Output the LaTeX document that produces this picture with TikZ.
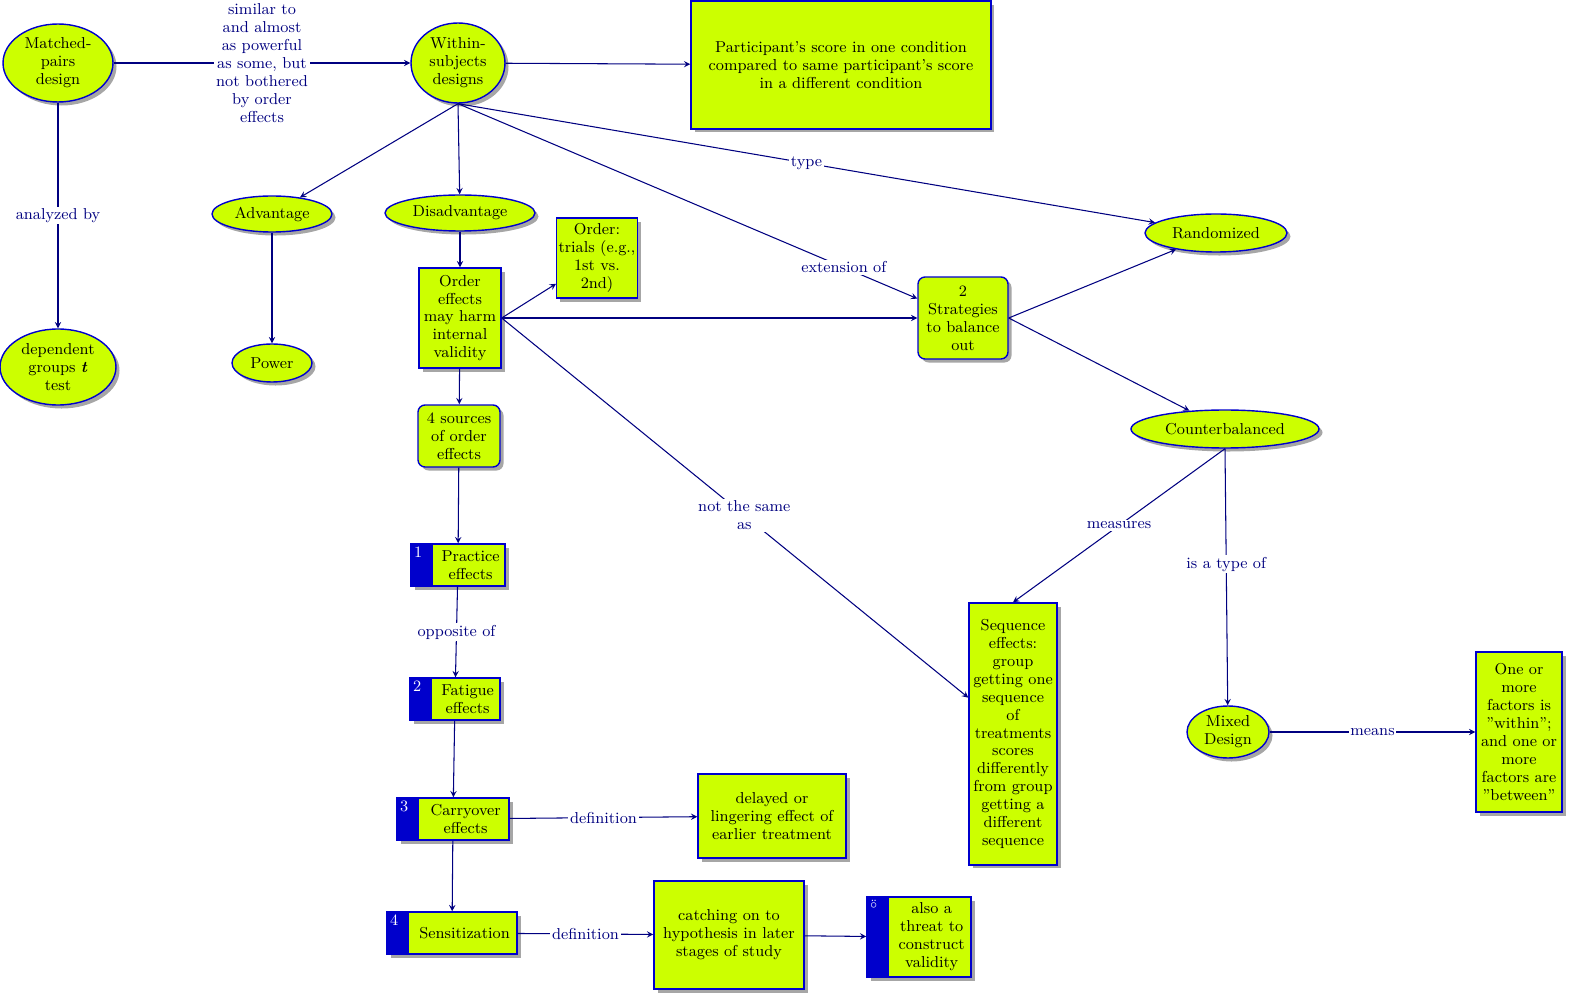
\documentclass[tikz,border=0pt]{standalone}
\usepackage{tikz}
\usetikzlibrary{shapes.geometric,shadows}
\definecolor{lime}{RGB}{204,255,0}
\definecolor{edgeblue}{RGB}{0,0,204}
\definecolor{navy}{RGB}{0,0,128}
\begin{document}
\begin{tikzpicture}[x=0.02cm,y=-0.02cm,
  font=\fontsize{9}{10.2}\selectfont,
  base/.style={draw=edgeblue,fill=lime,thick,align=center,inner sep=1pt,
    drop shadow={shadow xshift=2pt,shadow yshift=-2pt,fill=gray!70,opacity=1}},
  enode/.style={base,ellipse},
  bnode/.style={base,rectangle},
  rnode/.style={base,rectangle,rounded corners=4pt},
  nnode/.style={bnode,path picture={\fill[edgeblue] (path picture bounding box.north west) rectangle ([xshift=0.44cm]path picture bounding box.south west);}},
  arr/.style={->,>=stealth,navy,semithick},
  lbl/.style={fill=white,inner sep=1pt,align=center}]
  \useasboundingbox (0,0) rectangle (1572,996);

  \node[enode,minimum width=2.2cm,minimum height=1.56cm] (matched) at (58,63) {Matched-\\pairs\\design};
  \node[enode,minimum width=1.88cm,minimum height=1.6cm] (within) at (458,63) {Within-\\subjects\\designs};
  \node[bnode,minimum width=6cm,minimum height=2.56cm] (score) at (841,65) {Participant's score in one condition\\compared to same participant's score\\in a different condition};
  \node[enode,minimum width=2.4cm,minimum height=0.72cm] (adv) at (272,214) {Advantage};
  \node[enode,minimum width=3cm,minimum height=0.72cm] (disadv) at (460,213) {Disadvantage};
  \node[enode,minimum width=1.6cm,minimum height=0.76cm] (power) at (272,363) {Power};
  \node[enode,minimum width=2.32cm,minimum height=1.52cm] (depgrp) at (58,367) {dependent\\groups \textbf{\textit{t}}\\test};
  \node[bnode,minimum width=1.6cm,minimum height=1.6cm] (trials) at (597,258) {Order:\\trials (e.g.,\\1st vs.\\2nd)};
  \node[bnode,minimum width=1.64cm,minimum height=2cm] (order) at (460,318) {Order\\effects\\may harm\\internal\\validity};
  \node[rnode,minimum width=1.64cm,minimum height=1.24cm] (sources) at (459,436) {4 sources\\of order\\effects};
  \node[nnode,minimum width=1.88cm,minimum height=0.84cm,label={[white,anchor=north west,inner sep=2pt]north west:1}] (practice) at (458,565) {\hspace*{1.6em}Practice\\\hspace*{1.6em}effects};
  \node[nnode,minimum width=1.8cm,minimum height=0.84cm,label={[white,anchor=north west,inner sep=2pt]north west:2}] (fatigue) at (455,699) {\hspace*{1.6em}Fatigue\\\hspace*{1.6em}effects};
  \node[nnode,minimum width=2.24cm,minimum height=0.84cm,label={[white,anchor=north west,inner sep=2pt]north west:3}] (carry) at (453,819) {\hspace*{1.6em}Carryover\\\hspace*{1.6em}effects};
  \node[bnode,minimum width=2.96cm,minimum height=1.68cm] (delayed) at (772,816) {delayed or\\lingering effect of\\earlier treatment};
  \node[nnode,minimum width=2.6cm,minimum height=0.84cm,label={[white,anchor=north west,inner sep=2pt]north west:4}] (sensit) at (452,933) {\hspace*{1.6em}Sensitization};
  \node[bnode,minimum width=3cm,minimum height=2.16cm] (catching) at (729,935) {catching on to\\hypothesis in later\\stages of study};
  \node[nnode,minimum width=2.08cm,minimum height=1.6cm,label={[white,anchor=north west,inner sep=2pt]north west:\scriptsize$\ddot\circ$}] (threat) at (919,937) {\hspace*{1.6em}also a\\\hspace*{1.6em}threat to\\\hspace*{1.6em}construct\\\hspace*{1.6em}validity};
  \node[rnode,minimum width=1.8cm,minimum height=1.64cm] (strat) at (963,318) {2\\Strategies\\to balance\\out};
  \node[enode,minimum width=2.84cm,minimum height=0.76cm] (random) at (1216,233) {Randomized};
  \node[enode,minimum width=3.76cm,minimum height=0.76cm] (counter) at (1225,429) {Counterbalanced};
  \node[bnode,minimum width=1.76cm,minimum height=5.24cm] (seq) at (1013,734) {Sequence\\effects:\\group\\getting one\\sequence\\of\\treatments\\scores\\differently\\from group\\getting a\\different\\sequence};
  \node[enode,minimum width=1.64cm,minimum height=1.04cm] (mixed) at (1228,732) {Mixed\\Design};
  \node[bnode,minimum width=1.72cm,minimum height=3.2cm] (factors) at (1519,732) {One or\\more\\factors is\\"within";\\and one or\\more\\factors are\\"between"};

  \draw[arr] (matched) -- node[lbl] {similar to\\and almost\\as powerful\\as some, but\\not bothered\\by order\\effects} (within);
  \draw[arr] (matched) -- node[lbl] {analyzed by} (depgrp);
  \draw[arr] (within) -- (score);
  \draw[arr] (within.south) -- (adv);
  \draw[arr] (within.south) -- (disadv);
  \draw[arr] (within.south) -- node[lbl,pos=0.5] {type} (random);
  \draw[arr] (within.south) -- node[lbl,pos=0.84] {extension of} (strat);
  \draw[arr] (adv) -- (power);
  \draw[arr] (disadv) -- (order);
  \draw[arr] (order.east) -- (trials);
  \draw[arr] (order.east) -- (strat);
  \draw[arr] (order.east) -- node[lbl,pos=0.52] {not the same\\as} (seq);
  \draw[arr] (order) -- (sources);
  \draw[arr] (sources) -- (practice);
  \draw[arr] (practice) -- node[lbl] {opposite of} (fatigue);
  \draw[arr] (fatigue) -- (carry);
  \draw[arr] (carry) -- (sensit);
  \draw[arr] (carry) -- node[lbl] {definition} (delayed);
  \draw[arr] (sensit) -- node[lbl] {definition} (catching);
  \draw[arr] (catching) -- (threat);
  \draw[arr] (strat.east) -- (random);
  \draw[arr] (strat.east) -- (counter);
  \draw[arr] (counter.south) -- node[lbl] {measures} (seq.north);
  \draw[arr] (counter.south) -- node[lbl,pos=0.45] {is a type of} (mixed);
  \draw[arr] (mixed) -- node[lbl] {means} (factors);
\end{tikzpicture}
\end{document}
